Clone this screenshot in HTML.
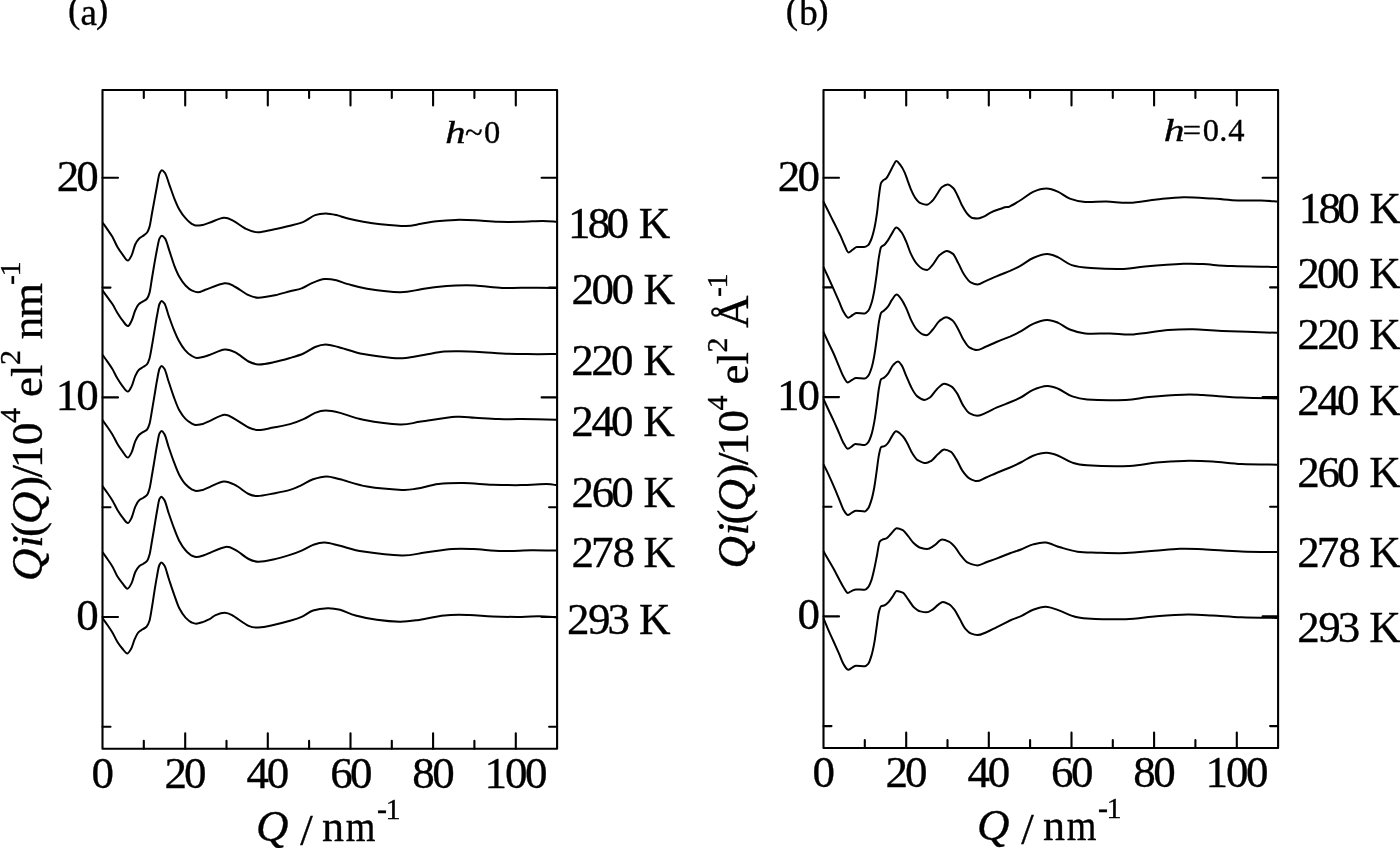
<!DOCTYPE html>
<html><head><meta charset="utf-8"><style>
html,body{margin:0;padding:0;background:#fff;width:1400px;height:848px;overflow:hidden}
svg{position:absolute;left:0;top:0;display:block;will-change:transform}
text{fill:#000;font-family:"Liberation Serif",serif;stroke:#000;stroke-width:0.35px}
</style></head><body>
<svg width="1400" height="848" viewBox="0 0 1400 848">
<path d="M102.5,90.0 H557.1 V748.8 H102.5 Z" fill="none" stroke="#000" stroke-width="2.10" stroke-linejoin="round"/>
<path d="M143.8,748.8 V740.8 M143.8,90.0 V98.0 M185.2,748.8 V733.3 M185.2,90.0 V105.5 M226.5,748.8 V740.8 M226.5,90.0 V98.0 M267.8,748.8 V733.3 M267.8,90.0 V105.5 M309.1,748.8 V740.8 M309.1,90.0 V98.0 M350.5,748.8 V733.3 M350.5,90.0 V105.5 M391.8,748.8 V740.8 M391.8,90.0 V98.0 M433.1,748.8 V733.3 M433.1,90.0 V105.5 M474.4,748.8 V740.8 M474.4,90.0 V98.0 M515.8,748.8 V733.3 M515.8,90.0 V105.5 M102.5,726.8 H110.5 M557.1,726.8 H549.1 M102.5,617.0 H118.0 M557.1,617.0 H541.6 M102.5,507.2 H110.5 M557.1,507.2 H549.1 M102.5,397.4 H118.0 M557.1,397.4 H541.6 M102.5,287.6 H110.5 M557.1,287.6 H549.1 M102.5,177.8 H118.0 M557.1,177.8 H541.6" fill="none" stroke="#000" stroke-width="2.10" stroke-linecap="round"/>
<path d="M823.5,90.0 H1278.1 V748.0 H823.5 Z" fill="none" stroke="#000" stroke-width="2.10" stroke-linejoin="round"/>
<path d="M864.8,748.0 V740.0 M864.8,90.0 V98.0 M906.2,748.0 V732.5 M906.2,90.0 V105.5 M947.5,748.0 V740.0 M947.5,90.0 V98.0 M988.8,748.0 V732.5 M988.8,90.0 V105.5 M1030.1,748.0 V740.0 M1030.1,90.0 V98.0 M1071.5,748.0 V732.5 M1071.5,90.0 V105.5 M1112.8,748.0 V740.0 M1112.8,90.0 V98.0 M1154.1,748.0 V732.5 M1154.1,90.0 V105.5 M1195.4,748.0 V740.0 M1195.4,90.0 V98.0 M1236.8,748.0 V732.5 M1236.8,90.0 V105.5 M823.5,726.1 H831.5 M1278.1,726.1 H1270.1 M823.5,616.4 H839.0 M1278.1,616.4 H1262.6 M823.5,506.7 H831.5 M1278.1,506.7 H1270.1 M823.5,397.1 H839.0 M1278.1,397.1 H1262.6 M823.5,287.4 H831.5 M1278.1,287.4 H1270.1 M823.5,177.7 H839.0 M1278.1,177.7 H1262.6" fill="none" stroke="#000" stroke-width="2.10" stroke-linecap="round"/>
<path d="M102.50,222.50 C104.13,224.80 105.77,227.04 107.40,229.40 C109.07,231.81 110.73,233.95 112.40,236.80 C114.03,239.59 115.67,243.91 117.30,246.70 C118.97,249.55 120.63,251.93 122.30,254.10 C124.17,256.53 126.03,260.60 127.90,260.60 C129.13,260.60 130.37,257.77 131.60,255.40 C132.83,253.03 134.07,246.66 135.30,244.20 C136.53,241.74 137.77,239.89 139.00,238.70 C140.47,237.28 141.93,236.73 143.40,235.60 C144.63,234.65 145.87,234.07 147.10,232.50 C147.90,231.48 148.70,229.51 149.50,226.90 C150.33,224.19 151.17,217.85 152.00,213.30 C152.83,208.75 153.67,204.15 154.50,199.60 C155.33,195.05 156.17,190.32 157.00,186.00 C157.83,181.68 158.67,175.43 159.50,173.60 C160.30,171.84 161.10,170.20 161.90,170.20 C162.93,170.20 163.97,171.64 165.00,173.00 C166.47,174.93 167.93,180.80 169.40,184.80 C171.03,189.25 172.67,194.37 174.30,198.40 C175.97,202.51 177.63,206.61 179.30,209.50 C181.37,213.08 183.43,215.93 185.50,218.20 C187.57,220.47 189.63,222.64 191.70,223.80 C193.13,224.60 194.57,225.60 196.00,225.60 C198.27,225.60 200.53,225.32 202.80,225.00 C205.20,224.66 207.60,223.33 210.00,222.50 C213.52,221.30 219.93,218.03 223.90,217.80 C227.87,217.57 230.23,219.32 233.80,221.10 C237.37,222.88 241.32,226.63 245.30,228.50 C249.28,230.37 253.02,232.15 257.70,232.30 C262.38,232.45 268.02,230.50 273.40,229.40 C278.78,228.30 284.98,226.97 290.00,225.70 C295.02,224.43 299.32,223.57 303.50,221.80 C307.68,220.03 311.40,216.48 315.10,215.10 C318.80,213.72 322.17,213.50 325.70,213.50 C329.23,213.50 332.60,214.27 336.30,215.10 C340.00,215.93 343.40,217.38 347.90,218.50 C352.40,219.62 357.85,220.83 363.30,221.80 C368.75,222.77 373.53,223.58 380.60,224.30 C387.67,225.02 398.95,226.18 405.70,226.10 C412.45,226.02 415.95,224.62 421.10,223.80 C426.25,222.98 430.80,221.85 436.60,221.20 C442.40,220.55 449.48,220.05 455.90,219.90 C462.32,219.75 468.03,219.98 475.10,220.30 C482.17,220.62 490.58,221.55 498.30,221.80 C506.02,222.05 514.02,221.95 521.40,221.80 C528.78,221.65 536.80,220.90 542.60,220.90 C548.40,220.90 553.93,221.65 556.20,221.80" fill="none" stroke="#000" stroke-width="2" stroke-linejoin="round"/>
<path d="M102.50,290.40 C104.13,292.67 105.77,294.96 107.40,297.20 C109.07,299.49 110.73,301.43 112.40,304.00 C114.03,306.52 115.67,310.06 117.30,312.70 C118.97,315.39 120.63,318.02 122.30,320.10 C124.17,322.43 126.03,326.10 127.90,326.10 C129.13,326.10 130.37,323.16 131.60,320.80 C132.83,318.44 134.07,312.81 135.30,310.20 C136.53,307.59 137.77,305.15 139.00,304.00 C140.47,302.63 141.93,302.20 143.40,301.20 C144.63,300.36 145.87,299.92 147.10,298.50 C147.90,297.58 148.70,295.58 149.50,292.90 C150.33,290.11 151.17,282.95 152.00,278.00 C152.83,273.05 153.67,267.94 154.50,263.20 C155.33,258.46 156.17,253.59 157.00,249.50 C157.83,245.41 158.67,239.89 159.50,238.40 C160.30,236.97 161.10,235.70 161.90,235.70 C162.93,235.70 163.97,237.07 165.00,238.40 C166.47,240.29 167.93,246.53 169.40,250.80 C171.03,255.56 172.67,261.40 174.30,265.60 C175.97,269.89 177.63,273.90 179.30,276.80 C181.37,280.40 183.43,283.41 185.50,285.50 C187.57,287.59 189.63,289.49 191.70,290.40 C193.77,291.31 195.83,292.30 197.90,292.30 C200.37,292.30 202.83,290.63 205.30,289.80 C209.77,288.28 219.68,283.67 224.70,283.20 C229.72,282.73 231.42,285.00 235.40,287.00 C239.38,289.00 244.75,293.42 248.60,295.20 C252.45,296.98 254.08,297.70 258.50,297.70 C262.92,297.70 269.85,296.27 275.10,295.20 C280.35,294.13 285.58,292.43 290.00,291.30 C294.42,290.17 297.75,289.85 301.60,288.40 C305.45,286.95 309.25,284.15 313.10,282.60 C316.95,281.05 320.83,279.48 324.70,279.10 C328.57,278.72 332.43,279.47 336.30,280.30 C340.17,281.13 342.77,282.70 347.90,284.10 C353.03,285.50 358.43,287.35 367.10,288.70 C375.77,290.05 390.90,292.10 399.90,292.20 C408.90,292.30 414.98,290.17 421.10,289.30 C427.22,288.43 430.80,287.63 436.60,287.00 C442.40,286.37 449.48,285.75 455.90,285.50 C462.32,285.25 467.38,285.08 475.10,285.50 C482.82,285.92 494.48,287.62 502.20,288.00 C509.92,288.38 512.40,287.80 521.40,287.80 C530.40,287.80 550.40,287.97 556.20,288.00" fill="none" stroke="#000" stroke-width="2" stroke-linejoin="round"/>
<path d="M102.50,354.80 C104.13,357.07 105.77,359.26 107.40,361.60 C109.07,363.99 110.73,366.23 112.40,369.00 C114.03,371.72 115.67,375.56 117.30,378.30 C118.97,381.09 120.63,383.75 122.30,385.80 C124.17,388.10 126.03,391.60 127.90,391.60 C129.13,391.60 130.37,388.72 131.60,386.40 C132.83,384.08 134.07,378.50 135.30,375.90 C136.53,373.30 137.77,370.88 139.00,369.70 C140.47,368.29 141.93,367.82 143.40,366.80 C144.63,365.94 145.87,365.52 147.10,364.10 C147.90,363.18 148.70,361.07 149.50,358.50 C150.33,355.82 151.17,350.13 152.00,345.50 C152.83,340.87 153.67,335.55 154.50,330.60 C155.33,325.65 156.17,320.18 157.00,315.80 C157.83,311.42 158.67,305.85 159.50,304.00 C160.20,302.45 160.90,300.90 161.60,300.90 C162.53,300.90 163.47,302.17 164.40,303.40 C165.83,305.28 167.27,311.78 168.70,315.80 C170.37,320.47 172.03,325.33 173.70,329.40 C175.37,333.47 177.03,337.47 178.70,340.50 C180.73,344.20 182.77,347.49 184.80,349.80 C186.87,352.15 188.93,354.17 191.00,355.40 C192.87,356.51 194.73,357.90 196.60,357.90 C199.07,357.90 201.53,357.24 204.00,356.70 C206.00,356.27 208.00,355.43 210.00,354.80 C213.45,353.62 220.47,350.00 224.70,349.60 C228.93,349.20 231.42,350.42 235.40,352.40 C239.38,354.38 244.75,359.50 248.60,361.50 C252.45,363.50 254.37,364.27 258.50,364.40 C262.63,364.53 268.15,363.37 273.40,362.30 C278.65,361.23 284.98,359.47 290.00,358.00 C295.02,356.53 299.32,355.33 303.50,353.50 C307.68,351.67 311.40,348.50 315.10,347.00 C318.80,345.50 321.85,344.50 325.70,344.50 C329.55,344.50 331.93,345.40 338.20,347.00 C344.47,348.60 354.30,352.27 363.30,354.10 C372.30,355.93 385.13,357.35 392.20,358.00 C399.27,358.65 400.23,358.55 405.70,358.00 C411.17,357.45 418.57,355.77 425.00,354.70 C431.43,353.63 438.52,352.18 444.30,351.60 C450.08,351.02 453.27,351.10 459.70,351.20 C466.13,351.30 475.82,351.82 482.90,352.20 C489.98,352.58 494.82,353.18 502.20,353.50 C509.58,353.82 518.20,354.00 527.20,354.10 C536.20,354.20 551.37,354.10 556.20,354.10" fill="none" stroke="#000" stroke-width="2" stroke-linejoin="round"/>
<path d="M102.50,420.20 C104.13,422.47 105.77,424.66 107.40,427.00 C109.07,429.39 110.73,431.63 112.40,434.40 C114.03,437.12 115.67,440.98 117.30,443.70 C118.97,446.47 120.63,448.93 122.30,451.10 C124.17,453.53 126.03,457.60 127.90,457.60 C129.13,457.60 130.37,454.77 131.60,452.40 C132.83,450.03 134.07,443.86 135.30,441.20 C136.53,438.54 137.77,436.24 139.00,435.00 C140.47,433.53 141.93,432.89 143.40,431.90 C144.63,431.07 145.87,430.80 147.10,429.50 C147.90,428.65 148.70,426.51 149.50,423.90 C150.33,421.19 151.17,415.04 152.00,410.30 C152.83,405.56 153.67,400.37 154.50,395.40 C155.33,390.43 156.17,384.87 157.00,380.50 C157.83,376.13 158.67,370.55 159.50,368.80 C160.20,367.33 160.90,365.90 161.60,365.90 C162.53,365.90 163.47,367.41 164.40,368.80 C165.83,370.94 167.27,377.51 168.70,381.80 C170.37,386.79 172.03,392.13 173.70,396.60 C175.57,401.61 177.43,406.98 179.30,410.30 C181.37,413.98 183.43,416.87 185.50,418.90 C187.13,420.51 188.77,421.78 190.40,422.70 C192.07,423.64 193.73,424.90 195.40,424.90 C197.87,424.90 200.33,424.41 202.80,423.90 C205.20,423.41 207.60,421.83 210.00,420.80 C213.65,419.28 220.47,415.05 224.70,414.80 C228.93,414.55 231.42,417.18 235.40,419.30 C239.38,421.42 244.75,425.72 248.60,427.50 C252.45,429.28 254.37,430.00 258.50,430.00 C262.63,430.00 268.15,428.48 273.40,427.50 C278.65,426.52 284.98,425.50 290.00,424.10 C295.02,422.70 299.32,420.97 303.50,419.10 C307.68,417.23 311.40,414.32 315.10,412.90 C318.80,411.48 321.53,410.60 325.70,410.60 C329.87,410.60 333.83,411.38 340.10,412.90 C346.37,414.42 353.33,417.77 363.30,419.70 C373.27,421.63 390.27,424.18 399.90,424.50 C409.53,424.82 411.77,422.88 421.10,421.60 C430.43,420.32 446.90,417.43 455.90,416.80 C464.90,416.17 468.03,417.42 475.10,417.80 C482.17,418.18 490.58,418.88 498.30,419.10 C506.02,419.32 511.75,419.00 521.40,419.10 C531.05,419.20 550.40,419.60 556.20,419.70" fill="none" stroke="#000" stroke-width="2" stroke-linejoin="round"/>
<path d="M102.50,486.20 C104.13,488.47 105.77,490.66 107.40,493.00 C109.07,495.39 110.73,497.63 112.40,500.40 C114.03,503.12 115.67,506.98 117.30,509.70 C118.97,512.47 120.63,515.02 122.30,517.10 C124.17,519.43 126.03,523.10 127.90,523.10 C129.13,523.10 130.37,520.20 131.60,517.80 C132.83,515.40 134.07,509.26 135.30,506.60 C136.53,503.94 137.77,501.52 139.00,500.40 C140.47,499.06 141.93,498.71 143.40,497.70 C144.63,496.85 145.87,496.34 147.10,494.80 C147.90,493.80 148.70,491.47 149.50,488.70 C150.33,485.81 151.17,479.74 152.00,475.00 C152.83,470.26 153.67,465.15 154.50,460.20 C155.33,455.25 156.17,449.69 157.00,445.30 C157.83,440.91 158.67,435.01 159.50,433.50 C160.20,432.23 160.90,431.10 161.60,431.10 C162.53,431.10 163.47,432.67 164.40,434.10 C165.83,436.30 167.27,442.98 168.70,447.20 C170.37,452.10 172.03,457.03 173.70,461.40 C175.57,466.29 177.43,471.52 179.30,475.00 C181.37,478.85 183.43,482.13 185.50,484.30 C187.57,486.47 189.63,488.27 191.70,489.30 C193.13,490.01 194.57,490.90 196.00,490.90 C198.27,490.90 200.53,490.39 202.80,489.90 C205.20,489.38 207.60,487.83 210.00,486.80 C213.52,485.38 219.67,481.67 223.90,481.40 C228.13,481.13 231.28,483.10 235.40,485.20 C239.52,487.30 244.88,492.20 248.60,494.00 C252.32,495.80 253.57,496.08 257.70,496.00 C261.83,495.92 268.02,494.52 273.40,493.50 C278.78,492.48 285.30,491.30 290.00,489.90 C294.70,488.50 297.75,486.87 301.60,485.10 C305.45,483.33 308.93,480.75 313.10,479.30 C317.27,477.85 322.10,476.40 326.60,476.40 C331.10,476.40 333.35,477.60 340.10,479.30 C346.85,481.00 356.80,484.83 367.10,486.60 C377.40,488.37 393.53,489.58 401.90,489.90 C410.27,490.22 411.20,489.47 417.30,488.50 C423.40,487.53 430.78,485.00 438.50,484.10 C446.22,483.20 454.60,483.00 463.60,483.10 C472.60,483.20 482.87,484.37 492.50,484.70 C502.13,485.03 512.40,485.20 521.40,485.10 C530.40,485.00 540.70,484.10 546.50,484.10 C552.30,484.10 554.58,484.93 556.20,485.10" fill="none" stroke="#000" stroke-width="2" stroke-linejoin="round"/>
<path d="M102.50,552.20 C104.13,554.47 105.77,556.66 107.40,559.00 C109.07,561.39 110.73,563.55 112.40,566.40 C114.03,569.19 115.67,573.64 117.30,576.30 C118.97,579.01 120.63,581.10 122.30,583.10 C124.03,585.19 125.77,588.70 127.50,588.70 C128.87,588.70 130.23,585.68 131.60,583.10 C132.83,580.77 134.07,574.48 135.30,572.00 C136.53,569.52 137.77,567.49 139.00,566.40 C140.47,565.10 141.93,564.71 143.40,563.70 C144.63,562.85 145.87,562.34 147.10,560.80 C147.90,559.80 148.70,557.47 149.50,554.70 C150.33,551.81 151.17,545.74 152.00,541.00 C152.83,536.26 153.67,531.15 154.50,526.20 C155.33,521.25 156.17,515.81 157.00,511.30 C157.83,506.79 158.67,500.48 159.50,498.90 C160.10,497.76 160.70,496.70 161.30,496.70 C162.33,496.70 163.37,498.47 164.40,500.10 C165.83,502.35 167.27,508.98 168.70,513.20 C170.37,518.10 172.03,523.03 173.70,527.40 C175.57,532.29 177.43,537.52 179.30,541.00 C181.37,544.85 183.43,548.05 185.50,550.30 C187.57,552.55 189.63,554.69 191.70,555.60 C193.33,556.32 194.97,557.10 196.60,557.10 C199.07,557.10 201.53,556.06 204.00,555.30 C206.00,554.68 208.00,553.63 210.00,552.80 C213.58,551.40 221.27,547.38 225.50,546.90 C229.73,546.42 231.55,547.88 235.40,549.90 C239.25,551.92 244.75,557.02 248.60,559.00 C252.45,560.98 254.37,561.72 258.50,561.80 C262.63,561.88 268.15,560.65 273.40,559.50 C278.65,558.35 285.30,556.38 290.00,554.90 C294.70,553.42 297.75,552.27 301.60,550.60 C305.45,548.93 309.25,546.25 313.10,544.90 C316.95,543.55 320.20,542.35 324.70,542.50 C329.20,542.65 333.67,544.28 340.10,545.80 C346.53,547.32 353.00,549.98 363.30,551.60 C373.60,553.22 391.62,555.33 401.90,555.50 C412.18,555.67 416.65,553.67 425.00,552.60 C433.35,551.53 443.97,549.68 452.00,549.10 C460.03,548.52 464.83,548.78 473.20,549.10 C481.57,549.42 492.55,550.80 502.20,551.00 C511.85,551.20 522.10,550.37 531.10,550.30 C540.10,550.23 552.02,550.55 556.20,550.60" fill="none" stroke="#000" stroke-width="2" stroke-linejoin="round"/>
<path d="M102.50,618.20 C104.13,620.47 105.77,622.66 107.40,625.00 C109.07,627.39 110.73,629.63 112.40,632.40 C114.03,635.12 115.67,639.11 117.30,641.70 C118.97,644.34 120.63,646.58 122.30,648.50 C123.97,650.42 125.63,653.50 127.30,653.50 C128.53,653.50 129.77,651.13 131.00,649.10 C132.23,647.07 133.47,641.89 134.70,639.20 C135.93,636.51 137.17,633.69 138.40,632.40 C139.83,630.90 141.27,630.29 142.70,629.30 C143.97,628.43 145.23,628.08 146.50,626.80 C147.50,625.79 148.50,623.71 149.50,620.70 C150.33,618.19 151.17,611.93 152.00,607.00 C152.83,602.07 153.67,596.04 154.50,590.90 C155.33,585.76 156.17,580.52 157.00,576.10 C157.73,572.21 158.47,567.15 159.20,565.50 C159.90,563.92 160.60,562.40 161.30,562.40 C162.33,562.40 163.37,563.99 164.40,565.50 C165.83,567.60 167.27,574.20 168.70,578.50 C170.37,583.50 172.03,588.71 173.70,593.40 C175.57,598.65 177.43,604.70 179.30,608.30 C181.37,612.28 183.43,615.46 185.50,617.60 C187.57,619.74 189.63,621.67 191.70,622.50 C193.13,623.07 194.57,623.70 196.00,623.70 C198.47,623.70 200.93,622.70 203.40,621.90 C205.60,621.19 207.80,619.83 210.00,618.80 C212.03,617.67 213.15,616.12 215.60,615.10 C218.05,614.08 221.95,612.70 224.70,612.70 C227.45,612.70 228.12,612.90 232.10,615.10 C236.08,617.30 244.20,623.83 248.60,625.90 C253.00,627.97 254.37,627.65 258.50,627.50 C262.63,627.35 268.15,626.12 273.40,625.00 C278.65,623.88 285.30,622.15 290.00,620.80 C294.70,619.45 297.75,618.62 301.60,616.90 C305.45,615.18 308.77,611.95 313.10,610.50 C317.43,609.05 323.10,608.32 327.60,608.20 C332.10,608.08 335.43,608.58 340.10,609.80 C344.77,611.02 349.48,613.83 355.60,615.50 C361.72,617.17 369.42,618.77 376.80,619.80 C384.18,620.83 393.15,621.63 399.90,621.70 C406.65,621.77 409.90,621.25 417.30,620.20 C424.70,619.15 435.62,616.27 444.30,615.40 C452.98,614.53 461.37,614.82 469.40,615.00 C477.43,615.18 483.83,616.18 492.50,616.50 C501.17,616.82 513.68,616.93 521.40,616.90 C529.12,616.87 533.00,616.23 538.80,616.30 C544.60,616.37 553.30,617.13 556.20,617.30" fill="none" stroke="#000" stroke-width="2" stroke-linejoin="round"/>
<path d="M823.20,201.20 C824.73,204.23 826.27,207.25 827.80,210.30 C829.53,213.75 831.27,217.23 833.00,220.70 C834.73,224.17 836.47,227.59 838.20,231.10 C839.03,232.79 839.87,234.39 840.70,236.20 C842.00,239.02 843.30,242.64 844.60,245.30 C845.90,247.96 847.20,252.40 848.50,252.40 C849.80,252.40 851.10,250.73 852.40,249.90 C853.93,248.93 855.47,247.00 857.00,247.00 C859.37,247.00 861.73,247.00 864.10,247.00 C865.40,247.00 866.70,246.23 868.00,245.30 C869.07,244.53 870.13,242.05 871.20,239.50 C872.30,236.87 873.40,232.75 874.50,227.80 C875.37,223.90 876.23,218.46 877.10,212.20 C877.73,207.63 878.37,200.00 879.00,195.40 C879.67,190.56 880.33,184.47 881.00,183.10 C881.83,181.38 882.67,180.78 883.50,180.10 C884.37,179.39 885.23,179.26 886.10,178.50 C887.40,177.37 888.70,174.34 890.00,172.00 C891.10,170.02 892.20,167.48 893.30,165.60 C894.30,163.89 895.30,161.00 896.30,161.00 C897.63,161.00 898.97,163.25 900.30,164.90 C901.73,166.68 903.17,169.23 904.60,172.30 C905.63,174.51 906.67,178.01 907.70,180.80 C908.77,183.68 909.83,186.86 910.90,189.30 C912.33,192.57 913.77,195.87 915.20,197.80 C916.97,200.17 918.73,202.38 920.50,203.10 C922.63,203.97 924.77,204.70 926.90,204.70 C928.67,204.70 930.43,202.65 932.20,201.00 C933.97,199.35 935.73,196.08 937.50,193.50 C938.90,191.46 940.30,188.21 941.70,187.20 C943.67,185.78 945.63,184.50 947.60,184.50 C949.53,184.50 951.47,186.34 953.40,188.20 C954.80,189.55 956.20,192.94 957.60,195.70 C959.03,198.53 960.47,202.52 961.90,205.20 C963.67,208.50 965.43,211.80 967.20,213.70 C968.97,215.60 970.73,217.68 972.50,218.00 C974.10,218.29 975.70,218.50 977.30,218.50 C979.23,218.50 981.17,217.61 983.10,216.90 C985.60,215.98 988.10,213.79 990.60,212.60 C992.70,211.60 994.80,210.78 996.90,210.00 C999.60,209.00 1002.30,208.20 1005.00,207.30 C1007.18,206.68 1007.23,207.60 1010.00,206.30 C1012.77,205.00 1017.75,201.92 1021.60,199.50 C1025.45,197.08 1028.93,193.63 1033.10,191.80 C1037.27,189.97 1042.42,188.50 1046.60,188.50 C1050.78,188.50 1054.33,190.12 1058.20,191.80 C1062.07,193.48 1065.30,196.90 1069.80,198.60 C1074.30,200.30 1079.10,201.52 1085.20,202.00 C1091.30,202.48 1099.00,201.37 1106.40,201.50 C1113.80,201.63 1121.23,203.13 1129.60,202.80 C1137.97,202.47 1147.60,200.43 1156.60,199.50 C1165.60,198.57 1174.28,197.35 1183.60,197.20 C1192.92,197.05 1203.50,198.05 1212.50,198.60 C1221.50,199.15 1229.57,200.18 1237.60,200.50 C1245.63,200.82 1254.12,200.33 1260.70,200.50 C1267.28,200.67 1274.37,201.33 1277.10,201.50" fill="none" stroke="#000" stroke-width="2" stroke-linejoin="round"/>
<path d="M823.40,266.80 C824.97,270.20 826.53,273.56 828.10,277.00 C829.93,281.02 831.77,285.10 833.60,289.20 C835.40,293.23 837.20,297.32 839.00,301.40 C840.60,305.02 842.20,309.76 843.80,312.30 C845.27,314.63 846.73,317.70 848.20,317.70 C849.67,317.70 851.13,315.81 852.60,315.00 C853.93,314.27 855.27,313.00 856.60,313.00 C859.33,313.00 862.07,313.40 864.80,313.40 C865.93,313.40 867.07,312.17 868.20,310.90 C869.33,309.63 870.47,306.38 871.60,302.80 C872.50,299.96 873.40,295.50 874.30,290.60 C875.10,286.24 875.90,280.07 876.70,274.30 C877.47,268.77 878.23,260.95 879.00,256.60 C879.70,252.63 880.40,248.01 881.10,247.10 C882.23,245.63 883.37,245.73 884.50,244.70 C885.63,243.67 886.77,242.04 887.90,240.40 C889.23,238.47 890.57,235.64 891.90,233.60 C893.37,231.36 894.83,227.50 896.30,227.50 C898.00,227.50 899.70,230.05 901.40,232.20 C903.00,234.22 904.60,238.10 906.20,241.70 C907.77,245.22 909.33,250.63 910.90,253.90 C912.73,257.72 914.57,261.29 916.40,263.40 C918.63,265.97 920.87,268.43 923.10,269.10 C924.47,269.51 925.83,269.90 927.20,269.90 C929.00,269.90 930.80,266.81 932.60,264.80 C934.87,262.26 937.13,257.19 939.40,255.30 C941.90,253.22 944.40,250.90 946.90,250.90 C948.93,250.90 950.97,252.32 953.00,253.90 C954.80,255.30 956.60,260.05 958.40,263.40 C960.23,266.82 962.07,271.55 963.90,274.30 C966.17,277.70 968.43,281.28 970.70,282.40 C972.93,283.51 975.17,284.50 977.40,284.50 C980.13,284.50 982.87,282.27 985.60,281.10 C989.20,279.56 992.80,277.81 996.40,276.30 C1000.93,274.39 1005.47,272.70 1010.00,270.90 C1014.20,269.03 1017.75,267.25 1021.60,265.10 C1025.45,262.95 1028.87,259.83 1033.10,258.00 C1037.33,256.17 1042.82,254.20 1047.00,254.10 C1051.18,254.00 1054.08,255.57 1058.20,257.40 C1062.32,259.23 1066.23,263.33 1071.70,265.10 C1077.17,266.87 1082.32,267.35 1091.00,268.00 C1099.68,268.65 1114.80,269.25 1123.80,269.00 C1132.80,268.75 1135.03,267.37 1145.00,266.50 C1154.97,265.63 1173.95,264.20 1183.60,263.80 C1193.25,263.40 1194.87,263.72 1202.90,264.10 C1210.93,264.48 1219.43,265.62 1231.80,266.10 C1244.17,266.58 1269.55,266.85 1277.10,267.00" fill="none" stroke="#000" stroke-width="2" stroke-linejoin="round"/>
<path d="M823.40,331.80 C824.97,335.20 826.53,338.66 828.10,342.00 C829.93,345.91 831.77,349.41 833.60,353.50 C835.40,357.51 837.20,362.21 839.00,366.40 C840.60,370.12 842.20,374.71 843.80,377.30 C845.13,379.46 846.47,382.40 847.80,382.40 C849.17,382.40 850.53,380.73 851.90,380.00 C853.27,379.27 854.63,378.00 856.00,378.00 C858.93,378.00 861.87,378.60 864.80,378.60 C865.93,378.60 867.07,377.25 868.20,375.90 C869.33,374.55 870.47,371.38 871.60,367.80 C872.50,364.96 873.40,360.50 874.30,355.60 C875.10,351.24 875.90,345.07 876.70,339.30 C877.47,333.77 878.23,325.74 879.00,321.60 C879.70,317.82 880.40,313.75 881.10,312.80 C882.10,311.45 883.10,311.36 884.10,310.50 C885.37,309.41 886.63,308.29 887.90,306.70 C889.23,305.02 890.57,301.72 891.90,299.90 C893.50,297.72 895.10,294.50 896.70,294.50 C898.27,294.50 899.83,297.25 901.40,299.30 C903.00,301.40 904.60,304.74 906.20,308.10 C907.77,311.39 909.33,316.41 910.90,319.60 C912.73,323.33 914.57,327.06 916.40,329.10 C918.63,331.58 920.87,333.81 923.10,334.50 C924.23,334.85 925.37,335.20 926.50,335.20 C928.53,335.20 930.57,331.93 932.60,329.80 C934.87,327.43 937.13,322.77 939.40,321.00 C941.67,319.23 943.93,317.20 946.20,317.20 C948.23,317.20 950.27,318.75 952.30,320.30 C954.13,321.70 955.97,325.28 957.80,328.40 C959.60,331.47 961.40,336.40 963.20,339.30 C965.23,342.57 967.27,346.23 969.30,347.40 C971.80,348.84 974.30,350.10 976.80,350.10 C979.73,350.10 982.67,347.99 985.60,346.80 C989.20,345.34 992.80,343.51 996.40,342.00 C1000.93,340.09 1005.47,338.40 1010.00,336.60 C1014.20,334.75 1017.75,333.03 1021.60,330.90 C1025.45,328.77 1028.87,325.63 1033.10,323.80 C1037.33,321.97 1042.82,320.07 1047.00,319.90 C1051.18,319.73 1054.40,321.20 1058.20,322.80 C1062.00,324.40 1065.30,327.73 1069.80,329.50 C1074.30,331.27 1078.45,332.75 1085.20,333.40 C1091.95,334.05 1102.27,333.23 1110.30,333.40 C1118.33,333.57 1123.77,334.95 1133.40,334.40 C1143.03,333.85 1158.13,330.97 1168.10,330.10 C1178.07,329.23 1184.20,329.07 1193.20,329.20 C1202.20,329.33 1208.12,330.30 1222.10,330.90 C1236.08,331.50 1267.93,332.48 1277.10,332.80" fill="none" stroke="#000" stroke-width="2" stroke-linejoin="round"/>
<path d="M823.40,398.90 C824.97,402.27 826.53,405.66 828.10,409.00 C829.93,412.90 831.77,416.60 833.60,420.60 C835.40,424.53 837.20,428.74 839.00,432.80 C840.60,436.41 842.20,440.98 843.80,443.60 C845.13,445.78 846.47,448.80 847.80,448.80 C849.17,448.80 850.53,447.29 851.90,446.40 C853.03,445.66 854.17,443.90 855.30,443.90 C858.47,443.90 861.63,445.00 864.80,445.00 C865.93,445.00 867.07,443.65 868.20,442.30 C869.33,440.95 870.47,437.71 871.60,434.10 C872.50,431.24 873.40,426.80 874.30,421.90 C875.10,417.54 875.90,411.36 876.70,405.60 C877.47,400.08 878.23,392.13 879.00,388.00 C879.70,384.23 880.40,379.87 881.10,379.20 C882.00,378.34 882.90,378.40 883.80,377.80 C885.17,376.89 886.53,375.46 887.90,373.80 C889.70,371.62 891.50,366.69 893.30,364.90 C894.87,363.34 896.43,361.50 898.00,361.50 C899.13,361.50 900.27,363.36 901.40,364.90 C903.00,367.07 904.60,372.18 906.20,375.80 C908.00,379.88 909.80,384.75 911.60,388.00 C913.40,391.25 915.20,394.70 917.00,396.10 C919.50,398.05 922.00,399.90 924.50,399.90 C926.30,399.90 928.10,398.65 929.90,397.50 C932.17,396.06 934.43,391.51 936.70,389.40 C939.20,387.07 941.70,383.70 944.20,383.70 C946.67,383.70 949.13,385.09 951.60,386.60 C953.43,387.72 955.27,390.61 957.10,393.40 C959.13,396.49 961.17,402.50 963.20,405.60 C965.23,408.70 967.27,412.00 969.30,413.10 C972.00,414.56 974.70,415.80 977.40,415.80 C980.57,415.80 983.73,413.72 986.90,412.40 C990.07,411.08 993.23,409.10 996.40,407.70 C1000.93,405.69 1005.47,404.10 1010.00,402.30 C1014.20,400.52 1017.75,399.07 1021.60,397.00 C1025.45,394.93 1028.87,391.73 1033.10,389.90 C1037.33,388.07 1042.82,386.20 1047.00,386.00 C1051.18,385.80 1054.08,387.02 1058.20,388.70 C1062.32,390.38 1066.88,394.30 1071.70,396.10 C1076.52,397.90 1078.10,398.87 1087.10,399.50 C1096.10,400.13 1115.40,400.32 1125.70,399.90 C1136.00,399.48 1139.25,397.87 1148.90,397.00 C1158.55,396.13 1174.60,395.02 1183.60,394.70 C1192.60,394.38 1193.27,394.62 1202.90,395.10 C1212.53,395.58 1229.03,397.05 1241.40,397.60 C1253.77,398.15 1271.15,398.27 1277.10,398.40" fill="none" stroke="#000" stroke-width="2" stroke-linejoin="round"/>
<path d="M823.40,464.10 C824.97,467.27 826.53,470.28 828.10,473.60 C829.93,477.49 831.77,481.66 833.60,485.90 C835.40,490.06 837.20,494.49 839.00,498.80 C840.60,502.63 842.20,507.80 843.80,510.30 C845.13,512.38 846.47,515.00 847.80,515.00 C849.17,515.00 850.53,513.41 851.90,512.70 C853.27,511.99 854.63,510.70 856.00,510.70 C858.93,510.70 861.87,511.40 864.80,511.40 C865.93,511.40 867.07,509.83 868.20,508.30 C869.33,506.77 870.47,503.20 871.60,499.40 C872.50,496.39 873.40,492.10 874.30,487.20 C875.10,482.84 875.90,476.45 876.70,470.90 C877.47,465.58 878.23,458.19 879.00,454.60 C879.70,451.32 880.40,447.61 881.10,447.20 C882.23,446.54 883.37,446.70 884.50,446.20 C885.63,445.70 886.77,444.43 887.90,443.10 C889.23,441.53 890.57,438.19 891.90,436.30 C893.27,434.36 894.63,431.30 896.00,431.30 C898.27,431.30 900.53,434.01 902.80,436.30 C904.17,437.68 905.53,440.07 906.90,442.40 C908.70,445.46 910.50,450.51 912.30,453.30 C914.10,456.09 915.90,459.04 917.70,460.10 C920.43,461.71 923.17,463.10 925.90,463.10 C927.70,463.10 929.50,461.86 931.30,460.80 C933.57,459.47 935.83,455.92 938.10,454.00 C940.13,452.28 942.17,449.50 944.20,449.50 C946.47,449.50 948.73,450.59 951.00,451.90 C952.80,452.94 954.60,456.53 956.40,459.40 C958.43,462.64 960.47,468.06 962.50,470.90 C964.77,474.07 967.03,477.16 969.30,478.40 C971.80,479.77 974.30,481.10 976.80,481.10 C979.73,481.10 982.67,478.90 985.60,477.70 C989.20,476.23 992.80,474.51 996.40,473.00 C1000.93,471.10 1005.47,469.33 1010.00,467.50 C1014.20,465.67 1017.75,463.97 1021.60,462.00 C1025.45,460.03 1028.93,457.23 1033.10,455.70 C1037.27,454.17 1042.42,452.80 1046.60,452.80 C1050.78,452.80 1054.02,454.10 1058.20,455.70 C1062.38,457.30 1066.88,460.80 1071.70,462.40 C1076.52,464.00 1077.45,464.72 1087.10,465.30 C1096.75,465.88 1118.02,466.38 1129.60,465.90 C1141.18,465.42 1147.60,463.23 1156.60,462.40 C1165.60,461.57 1174.28,461.05 1183.60,460.90 C1192.92,460.75 1202.87,460.98 1212.50,461.50 C1222.13,462.02 1230.63,463.47 1241.40,464.00 C1252.17,464.53 1271.15,464.58 1277.10,464.70" fill="none" stroke="#000" stroke-width="2" stroke-linejoin="round"/>
<path d="M823.40,551.10 C824.97,553.83 826.53,556.58 828.10,559.30 C829.93,562.48 831.77,565.49 833.60,568.80 C835.40,572.05 837.20,575.65 839.00,579.00 C840.60,581.98 842.20,585.38 843.80,587.80 C845.13,589.82 846.47,593.00 847.80,593.00 C849.17,593.00 850.53,591.37 851.90,590.80 C853.27,590.23 854.63,589.40 856.00,589.40 C858.93,589.40 861.87,589.80 864.80,589.80 C865.93,589.80 867.07,588.42 868.20,587.10 C869.33,585.78 870.47,582.86 871.60,579.60 C872.50,577.01 873.40,572.81 874.30,568.80 C875.20,564.79 876.10,559.73 877.00,555.20 C877.90,550.67 878.80,542.76 879.70,541.60 C880.60,540.44 881.50,540.01 882.40,539.60 C883.77,538.98 885.13,538.95 886.50,538.30 C888.10,537.54 889.70,535.07 891.30,533.50 C893.10,531.73 894.90,528.30 896.70,528.30 C898.73,528.30 900.77,529.14 902.80,530.10 C904.60,530.95 906.40,534.06 908.20,536.20 C910.00,538.34 911.80,541.35 913.60,543.00 C915.87,545.07 918.13,547.12 920.40,547.80 C922.67,548.48 924.93,549.10 927.20,549.10 C929.47,549.10 931.73,547.05 934.00,545.70 C936.73,544.08 939.47,539.60 942.20,539.60 C944.43,539.60 946.67,540.59 948.90,541.60 C950.93,542.52 952.97,544.86 955.00,547.10 C957.07,549.38 959.13,553.45 961.20,555.90 C963.43,558.55 965.67,561.68 967.90,562.70 C971.07,564.15 974.23,565.40 977.40,565.40 C980.57,565.40 983.73,563.13 986.90,562.00 C990.07,560.87 993.23,559.79 996.40,558.60 C1000.93,556.90 1005.47,555.00 1010.00,553.20 C1014.20,551.63 1017.75,550.67 1021.60,549.20 C1025.45,547.73 1029.08,545.52 1033.10,544.40 C1037.12,543.28 1041.20,542.02 1045.70,542.50 C1050.20,542.98 1054.80,545.77 1060.10,547.30 C1065.40,548.83 1071.38,550.80 1077.50,551.70 C1083.62,552.60 1088.77,552.47 1096.80,552.70 C1104.83,552.93 1116.05,553.42 1125.70,553.10 C1135.35,552.78 1145.70,551.52 1154.70,550.80 C1163.70,550.08 1171.67,549.07 1179.70,548.80 C1187.73,548.53 1192.62,548.75 1202.90,549.20 C1213.18,549.65 1229.03,551.02 1241.40,551.50 C1253.77,551.98 1271.15,552.00 1277.10,552.10" fill="none" stroke="#000" stroke-width="2" stroke-linejoin="round"/>
<path d="M823.40,618.20 C824.97,621.90 826.53,625.71 828.10,629.30 C829.93,633.50 831.77,637.40 833.60,641.50 C835.40,645.53 837.20,649.62 839.00,653.70 C840.60,657.32 842.20,662.16 843.80,664.60 C845.27,666.84 846.73,669.70 848.20,669.70 C849.67,669.70 851.13,668.04 852.60,667.30 C853.73,666.73 854.87,665.70 856.00,665.70 C858.93,665.70 861.87,666.30 864.80,666.30 C865.93,666.30 867.07,665.16 868.20,663.90 C869.33,662.64 870.47,658.87 871.60,655.10 C872.50,652.11 873.40,647.80 874.30,642.90 C875.10,638.54 875.90,631.92 876.70,626.60 C877.47,621.50 878.23,614.25 879.00,611.60 C879.77,608.95 880.53,606.56 881.30,606.20 C882.23,605.77 883.17,605.84 884.10,605.50 C885.37,605.04 886.63,603.95 887.90,602.80 C889.47,601.38 891.03,598.80 892.60,596.70 C893.97,594.86 895.33,591.00 896.70,591.00 C898.73,591.00 900.77,591.71 902.80,592.60 C904.60,593.39 906.40,597.02 908.20,599.40 C910.00,601.78 911.80,605.26 913.60,606.90 C915.87,608.96 918.13,610.86 920.40,611.40 C922.43,611.89 924.47,612.30 926.50,612.30 C928.53,612.30 930.57,610.79 932.60,609.60 C934.43,608.52 936.27,606.23 938.10,604.90 C939.67,603.76 941.23,601.90 942.80,601.90 C944.83,601.90 946.87,603.08 948.90,604.20 C950.73,605.21 952.57,607.29 954.40,609.60 C956.20,611.87 958.00,615.93 959.80,619.10 C961.60,622.27 963.40,626.50 965.20,628.60 C967.03,630.74 968.87,632.67 970.70,633.40 C972.93,634.29 975.17,635.10 977.40,635.10 C980.57,635.10 983.73,633.25 986.90,632.00 C990.07,630.75 993.23,628.87 996.40,627.30 C1000.93,625.05 1005.47,622.77 1010.00,620.50 C1014.20,618.60 1017.75,617.68 1021.60,615.90 C1025.45,614.12 1029.08,611.33 1033.10,609.80 C1037.12,608.27 1041.52,606.65 1045.70,606.70 C1049.88,606.75 1053.55,608.50 1058.20,610.10 C1062.85,611.70 1068.78,614.92 1073.60,616.30 C1078.42,617.68 1078.42,617.92 1087.10,618.40 C1095.78,618.88 1114.12,619.55 1125.70,619.20 C1137.28,618.85 1146.32,617.07 1156.60,616.30 C1166.88,615.53 1178.08,614.73 1187.40,614.60 C1196.72,614.47 1203.50,615.05 1212.50,615.50 C1221.50,615.95 1230.63,616.90 1241.40,617.30 C1252.17,617.70 1271.15,617.80 1277.10,617.90" fill="none" stroke="#000" stroke-width="2" stroke-linejoin="round"/>

<g>
<text x="568.1" y="237.7" font-size="45">1</text>
<text x="587.8" y="237.7" font-size="45">8</text>
<text x="606.6" y="237.7" font-size="45">0</text>
<text transform="translate(638.8,237.7) scale(0.971,1)" font-size="45">K</text>
<text x="571.6" y="303.7" font-size="45">2</text>
<text x="591.4" y="303.7" font-size="45">0</text>
<text x="611.4" y="303.7" font-size="45">0</text>
<text transform="translate(643.6,303.7) scale(0.971,1)" font-size="45">K</text>
<text x="571.3" y="374.8" font-size="45">2</text>
<text x="591.3" y="374.8" font-size="45">2</text>
<text x="611.1" y="374.8" font-size="45">0</text>
<text transform="translate(643.3,374.8) scale(0.971,1)" font-size="45">K</text>
<text x="571.3" y="435.5" font-size="45">2</text>
<text x="591.6" y="435.5" font-size="45">4</text>
<text x="611.1" y="435.5" font-size="45">0</text>
<text transform="translate(643.3,435.5) scale(0.971,1)" font-size="45">K</text>
<text x="571.5" y="506.6" font-size="45">2</text>
<text x="591.7" y="506.6" font-size="45">6</text>
<text x="611.3" y="506.6" font-size="45">0</text>
<text transform="translate(643.5,506.6) scale(0.971,1)" font-size="45">K</text>
<text x="571.5" y="567.2" font-size="45">2</text>
<text x="591.0" y="567.2" font-size="45">7</text>
<text x="612.5" y="567.2" font-size="45">8</text>
<text transform="translate(643.5,567.2) scale(0.971,1)" font-size="45">K</text>
<text x="567.0" y="633.8" font-size="45">2</text>
<text x="588.0" y="633.8" font-size="45">9</text>
<text x="607.5" y="633.8" font-size="45">3</text>
<text transform="translate(639.0,633.8) scale(0.971,1)" font-size="45">K</text>
<text x="1298.8" y="222.6" font-size="45">1</text>
<text x="1318.5" y="222.6" font-size="45">8</text>
<text x="1337.3" y="222.6" font-size="45">0</text>
<text transform="translate(1369.5,222.6) scale(0.971,1)" font-size="45">K</text>
<text x="1297.2" y="288.3" font-size="45">2</text>
<text x="1317.0" y="288.3" font-size="45">0</text>
<text x="1337.0" y="288.3" font-size="45">0</text>
<text transform="translate(1369.2,288.3) scale(0.971,1)" font-size="45">K</text>
<text x="1297.3" y="349.2" font-size="45">2</text>
<text x="1317.3" y="349.2" font-size="45">2</text>
<text x="1337.1" y="349.2" font-size="45">0</text>
<text transform="translate(1369.3,349.2) scale(0.971,1)" font-size="45">K</text>
<text x="1297.3" y="414.8" font-size="45">2</text>
<text x="1317.6" y="414.8" font-size="45">4</text>
<text x="1337.1" y="414.8" font-size="45">0</text>
<text transform="translate(1369.3,414.8) scale(0.971,1)" font-size="45">K</text>
<text x="1297.3" y="486.7" font-size="45">2</text>
<text x="1317.5" y="486.7" font-size="45">6</text>
<text x="1337.1" y="486.7" font-size="45">0</text>
<text transform="translate(1369.3,486.7) scale(0.971,1)" font-size="45">K</text>
<text x="1297.3" y="567.1" font-size="45">2</text>
<text x="1316.8" y="567.1" font-size="45">7</text>
<text x="1338.3" y="567.1" font-size="45">8</text>
<text transform="translate(1369.3,567.1) scale(0.971,1)" font-size="45">K</text>
<text x="1297.3" y="642.4" font-size="45">2</text>
<text x="1318.3" y="642.4" font-size="45">9</text>
<text x="1337.8" y="642.4" font-size="45">3</text>
<text transform="translate(1369.3,642.4) scale(0.971,1)" font-size="45">K</text>
<text x="56.8" y="190.7" font-size="45">2</text>
<text x="76.2" y="190.7" font-size="45">0</text>
<text x="55.8" y="410.1" font-size="45">1</text>
<text x="76.2" y="410.1" font-size="45">0</text>
<text x="76.3" y="629.6" font-size="45">0</text>
<text x="777.8" y="190.6" font-size="45">2</text>
<text x="797.5" y="190.6" font-size="45">0</text>
<text x="776.9" y="409.8" font-size="45">1</text>
<text x="797.4" y="409.8" font-size="45">0</text>
<text x="797.4" y="629.0" font-size="45">0</text>
<text x="91.5" y="788.0" font-size="45">0</text>
<text x="164.5" y="788.0" font-size="45">2</text>
<text x="184.0" y="788.0" font-size="45">0</text>
<text x="246.6" y="788.0" font-size="45">4</text>
<text x="266.8" y="788.0" font-size="45">0</text>
<text x="330.2" y="788.0" font-size="45">6</text>
<text x="349.9" y="788.0" font-size="45">0</text>
<text x="412.2" y="788.0" font-size="45">8</text>
<text x="432.2" y="788.0" font-size="45">0</text>
<text x="484.5" y="788.0" font-size="45">1</text>
<text x="505.0" y="788.0" font-size="45">0</text>
<text x="525.0" y="788.0" font-size="45">0</text>
<text x="812.5" y="787.1" font-size="45">0</text>
<text x="885.5" y="787.1" font-size="45">2</text>
<text x="904.9" y="787.1" font-size="45">0</text>
<text x="967.6" y="787.1" font-size="45">4</text>
<text x="987.8" y="787.1" font-size="45">0</text>
<text x="1051.1" y="787.1" font-size="45">6</text>
<text x="1070.9" y="787.1" font-size="45">0</text>
<text x="1133.2" y="787.1" font-size="45">8</text>
<text x="1153.2" y="787.1" font-size="45">0</text>
<text x="1205.5" y="787.1" font-size="45">1</text>
<text x="1226.0" y="787.1" font-size="45">0</text>
<text x="1246.0" y="787.1" font-size="45">0</text>
<text x="256.1" y="840.6" font-size="45" font-style="italic">Q</text>
<text x="300.3" y="844.6" font-size="45">/</text>
<text transform="translate(322.1,840.6) scale(0.981,1)" font-size="45">n</text>
<text transform="translate(345.8,840.6) scale(0.848,1)" font-size="45">m</text>
<text x="377.0" y="818.6" font-size="30">-</text>
<text x="385.4" y="818.6" font-size="30">1</text>
<text x="977.1" y="839.5" font-size="45" font-style="italic">Q</text>
<text x="1021.3" y="843.5" font-size="45">/</text>
<text transform="translate(1043.1,839.5) scale(0.981,1)" font-size="45">n</text>
<text transform="translate(1066.8,839.5) scale(0.848,1)" font-size="45">m</text>
<text x="1098.0" y="817.5" font-size="30">-</text>
<text x="1106.5" y="817.5" font-size="30">1</text>
<text x="68.1" y="22.2" font-size="37">(</text>
<text x="80.4" y="24.9" font-size="37">a</text>
<text x="96.0" y="22.2" font-size="37">)</text>
<text x="785.8" y="22.6" font-size="37">(</text>
<text x="799.2" y="24.8" font-size="37">b</text>
<text x="816.3" y="22.6" font-size="37">)</text>
<text transform="translate(445.2,143.2) scale(1.250,1)" font-size="32.5" font-style="italic">h</text>
<text x="465.0" y="143.2" font-size="32.5">~</text>
<text x="484.0" y="143.2" font-size="32.5">0</text>
<text transform="translate(1163.7,141.4) scale(1.286,1)" font-size="32.5" font-style="italic">h</text>
<text x="1182.8" y="141.4" font-size="32.5">=</text>
<text x="1202.8" y="141.4" font-size="32.5">0</text>
<text x="1219.2" y="141.4" font-size="32.5">.</text>
<text x="1228.2" y="141.4" font-size="32.5">4</text>
<text transform="translate(42.0,0) rotate(-90)" x="-581.0" y="0" font-size="45" font-style="italic">Q</text>
<text transform="translate(42.0,0) rotate(-90)" x="-547.8" y="0" font-size="45" font-style="italic">i</text>
<text transform="translate(42.0,0) rotate(-90)" x="-537.0" y="0" font-size="45">(</text>
<text transform="translate(42.0,0) rotate(-90)" x="-524.1" y="0" font-size="45" font-style="italic">Q</text>
<text transform="translate(42.0,0) rotate(-90)" x="-491.1" y="0" font-size="45">)</text>
<text transform="translate(42.0,0) rotate(-90)" x="-477.4" y="0" font-size="45">/</text>
<text transform="translate(42.0,0) rotate(-90)" x="-468.0" y="0" font-size="45">1</text>
<text transform="translate(42.0,0) rotate(-90)" x="-444.9" y="0" font-size="45">0</text>
<text transform="translate(20.3,0) rotate(-90)" x="-422.9" y="0" font-size="30">4</text>
<text transform="translate(42.0,0) rotate(-90)" x="-396.9" y="0" font-size="45">e</text>
<text transform="translate(42.0,0) rotate(-90)" x="-376.9" y="0" font-size="45">l</text>
<text transform="translate(20.3,0) rotate(-90)" x="-365.0" y="0" font-size="30">2</text>
<text transform="translate(42.0,0) rotate(-90)" x="-339.3" y="0" font-size="45">n</text>
<text transform="translate(42.0,0) rotate(-90)" x="-317.9" y="0" font-size="45">m</text>
<text transform="translate(20.3,0) rotate(-90)" x="-285.0" y="0" font-size="30">-</text>
<text transform="translate(20.3,0) rotate(-90)" x="-276.4" y="0" font-size="30">1</text>
<text transform="translate(748.0,0) rotate(-90)" x="-568.5" y="0" font-size="45" font-style="italic">Q</text>
<text transform="translate(748.0,0) rotate(-90)" x="-535.2" y="0" font-size="45" font-style="italic">i</text>
<text transform="translate(748.0,0) rotate(-90)" x="-524.5" y="0" font-size="45">(</text>
<text transform="translate(748.0,0) rotate(-90)" x="-511.6" y="0" font-size="45" font-style="italic">Q</text>
<text transform="translate(748.0,0) rotate(-90)" x="-478.6" y="0" font-size="45">)</text>
<text transform="translate(748.0,0) rotate(-90)" x="-464.9" y="0" font-size="45">/</text>
<text transform="translate(748.0,0) rotate(-90)" x="-455.5" y="0" font-size="45">1</text>
<text transform="translate(748.0,0) rotate(-90)" x="-432.4" y="0" font-size="45">0</text>
<text transform="translate(726.9,0) rotate(-90)" x="-410.4" y="0" font-size="30">4</text>
<text transform="translate(748.0,0) rotate(-90)" x="-384.4" y="0" font-size="45">e</text>
<text transform="translate(748.0,0) rotate(-90)" x="-364.4" y="0" font-size="45">l</text>
<text transform="translate(726.9,0) rotate(-90)" x="-352.5" y="0" font-size="30">2</text>
<text transform="translate(748.0,0) rotate(-90)" x="-328.0" y="0" font-size="45">Å</text>
<text transform="translate(726.9,0) rotate(-90)" x="-296.9" y="0" font-size="30">-</text>
<text transform="translate(726.9,0) rotate(-90)" x="-288.6" y="0" font-size="30">1</text>
</g>
</svg>
</body></html>
